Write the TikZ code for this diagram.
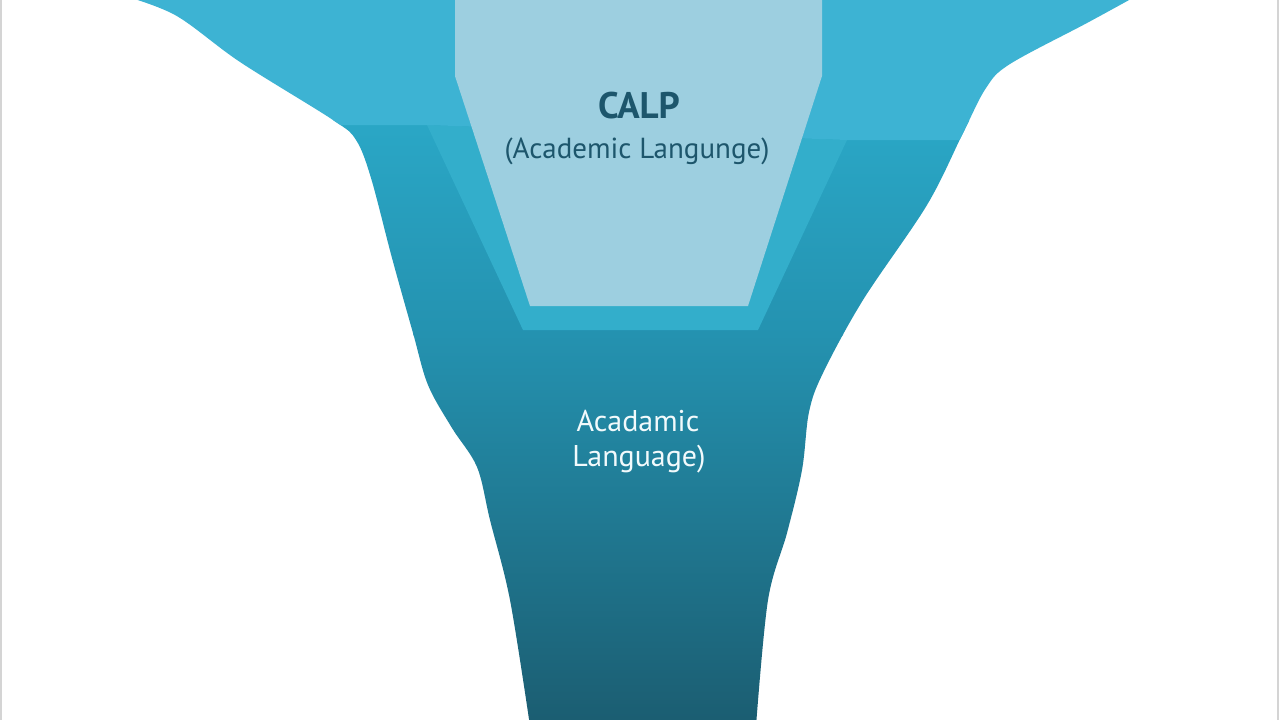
\documentclass[tikz,border=0pt]{standalone}
\usepackage{fontspec}
\setmainfont{PT Sans}
\definecolor{topband}{HTML}{3DB3D3}
\definecolor{midtop}{HTML}{2AA7C6}
\definecolor{midbot}{HTML}{2492B0}
\definecolor{deep}{HTML}{1B5D71}
\definecolor{rimband}{HTML}{33AECB}
\definecolor{inner}{HTML}{9DCFE0}
\definecolor{darktext}{HTML}{1D566C}
\definecolor{lighttext}{HTML}{F2FAFC}
\definecolor{edgegray}{HTML}{D4D4D4}
\tikzset{
  titletext/.style={font=\fontsize{37}{40}\selectfont\bfseries, text=darktext, inner sep=0pt},
  subtext/.style={font=\fontsize{29}{36}\selectfont, text=darktext, inner sep=0pt},
  lowtext/.style={font=\fontsize{30}{35}\selectfont, text=lighttext, inner sep=0pt, align=center}
}
\begin{document}
\begin{tikzpicture}[x=1pt,y=-1pt]
\useasboundingbox (0,0) rectangle (1280,720);
\fill[white] (0,0) rectangle (1280,720);
\begin{scope}
\clip plot[smooth, tension=0.55] coordinates {
 (118,-6) (175,15) (240,62) (333,120) (356,140) (371,178) (392,258)
 (413,333) (428,385) (452,428) (477,467) (490,520) (510,600) (530,726)}
 -- (756,726) --
 plot[smooth, tension=0.55] coordinates {
 (756,726) (768,600) (787,533) (802,470) (809,412) (823,373) (863,300)
 (927,205) (963,133) (986,88) (1010,64) (1087,23) (1140,-6)} -- cycle;
\shade[top color=midtop, bottom color=midbot] (0,120) rectangle (1280,335);
\shade[top color=midbot, bottom color=deep] (0,334) rectangle (1280,725);
\fill[rimband] (427,125) -- (523,330) -- (758,330) -- (847,140) -- cycle;
\fill[topband] (0,-10) -- (1280,-10) -- (1280,140) -- (847,140) -- (427,125) -- (0,125) -- cycle;
\fill[inner] (455,-10) -- (455,76) -- (530,306) -- (748,306) -- (822,76) -- (822,-10) -- cycle;
\end{scope}
\node[titletext, anchor=base] (calp) at (639,118) {CALP};
\node[subtext, anchor=base] (calpsub) at (637,158) {(Academic Langunge)};
\node[lowtext, anchor=base] (acad1) at (638,431) {Acadamic};
\node[lowtext, anchor=base] (acad2) at (639,466) {Language)};
\draw[edgegray, line width=2pt] (1,0) -- (1,720);
\draw[edgegray, line width=2pt] (1278,0) -- (1278,720);
\end{tikzpicture}
\end{document}
